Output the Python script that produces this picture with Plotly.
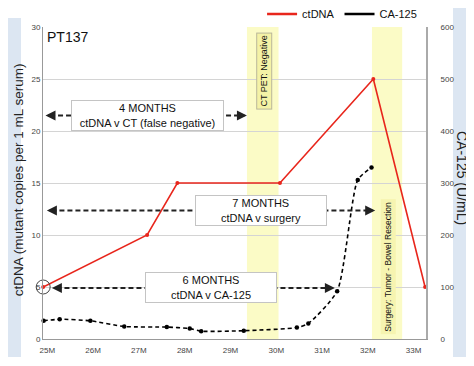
import plotly.graph_objects as go

# ---- data ----
ct_months = [24.91, 27.18, 27.84, 30.08, 32.12, 33.25]
ctdna = [5, 10, 15, 15, 25, 5]

ca_months = [24.92, 25.27, 25.94, 26.68, 27.61, 28.11, 28.36, 29.29, 30.45, 30.70, 31.33, 31.78, 32.08]
ca125 = [35, 38, 35, 24, 23, 20, 15, 16, 22, 30, 92, 306, 330]

x_ticks = [25, 26, 27, 28, 29, 30, 31, 32, 33]
x_tick_labels = ["25M", "26M", "27M", "28M", "29M", "30M", "31M", "32M", "33M"]

# event windows (months)
ct_pet_window = [29.36, 30.05]
surgery_window = [32.09, 32.75]

# comparison arrows: (label, y on ctDNA scale, left tip, right tip, box x, box y, box width)
comparisons = [
    ("4 MONTHS<br>ctDNA v CT (false negative)", 21.5, 24.96, 29.36, 27.19, 21.45, 149),
    ("7 MONTHS<br>ctDNA v surgery", 12.35, 24.99, 32.16, 29.67, 12.4, 128),
    ("6 MONTHS<br>ctDNA v CA-125", 4.9, 25.10, 31.28, 28.58, 4.95, 128),
]

FONT = "Arial, Liberation Sans, sans-serif"

fig = go.Figure()

fig.add_trace(go.Scatter(
    x=ct_months, y=ctdna, name="ctDNA", mode="lines+markers", showlegend=False, cliponaxis=False,
    line=dict(color="#e8261c", width=1.6),
    marker=dict(color="#e8261c", size=4),
))
fig.add_trace(go.Scatter(
    x=ca_months, y=ca125, name="CA-125", mode="lines+markers", yaxis="y2", showlegend=False,
    cliponaxis=False,
    line=dict(color="black", width=1.6, dash="4px,3px", shape="spline", smoothing=0.6),
    marker=dict(color="black", size=4.5),
))
# legend entries (line only)
fig.add_trace(go.Scatter(x=[None], y=[None], name="ctDNA", mode="lines",
                         line=dict(color="#e8261c", width=2.5)))
fig.add_trace(go.Scatter(x=[None], y=[None], name="CA-125", mode="lines",
                         line=dict(color="black", width=2.5)))
# circle around first ctDNA point
fig.add_trace(go.Scatter(
    x=[ct_months[0]], y=[ctdna[0]], mode="markers", showlegend=False, hoverinfo="skip",
    cliponaxis=False,
    marker=dict(symbol="circle-open", size=14, color="#444", line=dict(width=1)),
))

shapes = []
# background blue bands for axis titles
shapes.append(dict(type="rect", xref="paper", yref="paper", x0=-0.1123, x1=-0.0574,
                   y0=-0.0577, y1=1.029, fillcolor="#dce6f2", line=dict(width=0), layer="below"))
shapes.append(dict(type="rect", xref="paper", yref="paper", x0=1.0705, x1=1.16,
                   y0=-0.0577, y1=1.09, fillcolor="#dce6f2", line=dict(width=0), layer="below"))
# yellow event bands
for w in (ct_pet_window, surgery_window):
    shapes.append(dict(type="rect", xref="x", yref="paper", x0=w[0], x1=w[1], y0=0, y1=1,
                       fillcolor="#fbfbc6", line=dict(width=0), layer="below"))

annotations = []
for label, yv, xl, xr, bx, by, bw in comparisons:
    shapes.append(dict(type="line", xref="x", yref="y", x0=xl + 0.1, x1=xr - 0.1, y0=yv, y1=yv,
                       line=dict(color="#222", width=2, dash="5px,3px")))
    for tip, tail in ((xl, xl + 0.12), (xr, xr - 0.12)):
        annotations.append(dict(x=tip, y=yv, xref="x", yref="y", ax=tail, ay=yv, axref="x", ayref="y",
                                text="", showarrow=True, arrowhead=2, arrowsize=1, arrowwidth=2,
                                arrowcolor="#222", standoff=0))
    annotations.append(dict(x=bx, y=by, xref="x", yref="y", text=label, showarrow=False,
                            xanchor="center", yanchor="middle",
                            font=dict(family=FONT, size=11, color="#111"),
                            bgcolor="white", bordercolor="#c4c4c4", borderwidth=1, borderpad=1,
                            width=bw, height=27, align="center"))

annotations.append(dict(x=29.73, y=25.8, xref="x", yref="y", text="CT PET: Negative", showarrow=False,
                        xanchor="center", yanchor="middle",
                        textangle=-90, font=dict(family=FONT, size=9, color="#111"),
                        bgcolor="#f4f2a6", bordercolor="#b9b79a", borderwidth=1, borderpad=2))
annotations.append(dict(x=32.45, y=7.0, xref="x", yref="y", text="Surgery: Tumor - Bowel Resection",
                        showarrow=False, textangle=-90, xanchor="center", yanchor="middle",
                        font=dict(family=FONT, size=8.5, color="#111"),
                        bgcolor="#f6f4b0", borderpad=2))
annotations.append(dict(x=0.004, y=0.968, xref="paper", yref="paper", text="PT137", showarrow=False,
                        xanchor="left", yanchor="middle", font=dict(family=FONT, size=14, color="#111")))
annotations.append(dict(x=-0.064, y=0.51, xref="paper", yref="paper",
                        text="ctDNA (mutant copies per 1 mL serum)", showarrow=False, textangle=-90,
                        xanchor="center", yanchor="middle",
                        font=dict(family=FONT, size=13.5, color="#222")))
annotations.append(dict(x=1.094, y=0.516, xref="paper", yref="paper", text="CA-125 (U/mL)",
                        showarrow=False, textangle=90, xanchor="center", yanchor="middle",
                        font=dict(family=FONT, size=14, color="#222")))

fig.update_layout(
    width=474, height=366,
    margin=dict(l=35, r=56, t=19, b=35, autoexpand=False),
    paper_bgcolor="white", plot_bgcolor="white",
    font=dict(family=FONT),
    showlegend=True,
    legend=dict(orientation="h", x=0.572, y=1.042, xanchor="left", yanchor="middle",
                font=dict(family=FONT, size=11, color="#111"), bgcolor="rgba(0,0,0,0)",
                itemwidth=30),
    xaxis=dict(range=[24.906, 33.27], tickvals=x_ticks, ticktext=x_tick_labels,
               tickfont=dict(size=8, color="#444"), showgrid=False, zeroline=False,
               showline=True, linecolor="#999", linewidth=1, ticks="", automargin=False,
               ticklabelstandoff=3),
    yaxis=dict(range=[0, 30], dtick=5, tickfont=dict(size=8, color="#444"),
               showgrid=True, gridcolor="#d4d4d4", zeroline=False,
               showline=True, linecolor="#999", linewidth=1, ticks="", automargin=False),
    yaxis2=dict(range=[0, 600], dtick=100, overlaying="y", side="right",
                tickfont=dict(size=8, color="#444"), showgrid=False, zeroline=False,
                showline=True, linecolor="#aaa", linewidth=2, ticks="", ticklabelstandoff=11,
                automargin=False),
    shapes=shapes,
    annotations=annotations,
)

fig.write_html("out.html")
